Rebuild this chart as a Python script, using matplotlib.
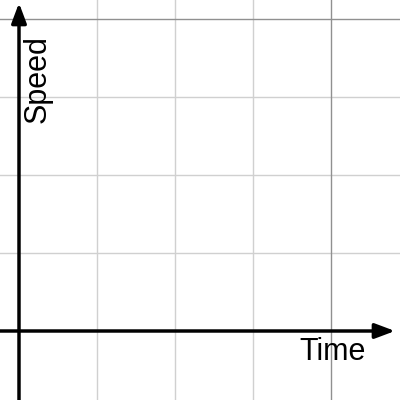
import matplotlib
matplotlib.use("Agg")
import matplotlib.pyplot as plt

minor_grid = [1, 2, 3]
major_grid = [4]
x_label = "Time"
y_label = "Speed"

fig = plt.figure(figsize=(4, 4), dpi=100)
ax = fig.add_axes([0, 0, 1, 1])
ax.set_xlim(-19/78, 381/78)
ax.set_ylim(-69/78, 331/78)
ax.axis("off")
for v in minor_grid:
    ax.axvline(v, color="#d0d0d0", lw=1)
    ax.axhline(v, color="#d0d0d0", lw=1)
for v in major_grid:
    ax.axvline(v, color="#909090", lw=1)
    ax.axhline(v, color="#909090", lw=1)
ax.annotate("", xy=(376/78, 0), xytext=(-19/78, 0),
            arrowprops=dict(arrowstyle="-|>,head_length=1.2,head_width=0.45", color="black", lw=2.5, shrinkA=0, shrinkB=0))
ax.annotate("", xy=(0, 328/78), xytext=(0, -69/78),
            arrowprops=dict(arrowstyle="-|>,head_length=1.2,head_width=0.45", color="black", lw=2.5, shrinkA=0, shrinkB=0))
ax.text(314/78, -21/78, x_label, fontsize=22, ha="center", va="center", family="Liberation Sans")
ax.text(19/78, 252/78, y_label, fontsize=22, ha="center", va="center", rotation=90, family="Liberation Sans")
fig.savefig("out.png", dpi=100)
